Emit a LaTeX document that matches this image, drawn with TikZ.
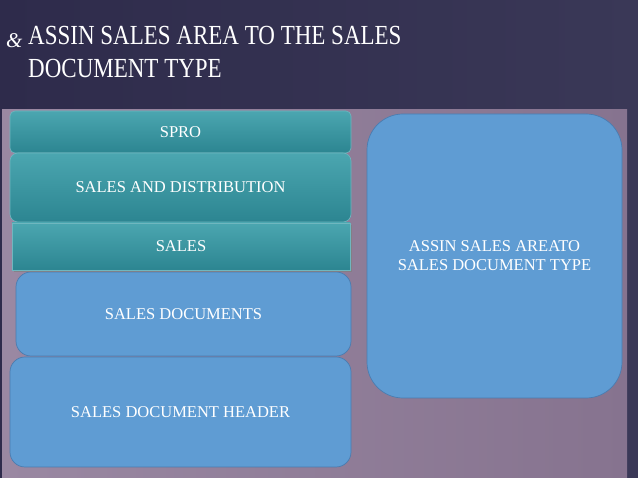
\documentclass[tikz,border=0pt]{standalone}
\usepackage{fontspec}
\setmainfont{Liberation Serif}
\usetikzlibrary{shadows}
\definecolor{bgnavy}{HTML}{2E2B4B}
\definecolor{bgnavyR}{HTML}{3A3857}
\definecolor{panelL}{HTML}{9A88A2}
\definecolor{panelR}{HTML}{86738F}
\definecolor{tealT}{HTML}{4BA6B0}
\definecolor{tealB}{HTML}{2C8591}
\definecolor{tealE}{HTML}{6FB7BF}
\definecolor{blueF}{HTML}{5F9CD3}
\definecolor{blueE}{HTML}{4A7CB0}
\tikzset{
  tealbox/.style={draw=tealE, line width=0.6pt, top color=tealT, bottom color=tealB,
    minimum width=341pt, inner sep=0pt, text=white, font=\fontsize{16.5}{19}\selectfont},
  bluebox/.style={draw=blueE, line width=0.7pt, fill=blueF, rounded corners=15pt,
    inner sep=0pt, text=white, font=\fontsize{16.5}{19}\selectfont},
}
\begin{document}
\begin{tikzpicture}[x=1pt,y=1pt]
\useasboundingbox (0,0) rectangle (638,478);
% background
\shade[left color=bgnavy, right color=bgnavyR] (0,0) rectangle (638,478);
% panel
\shade[left color=panelL, right color=panelR] (2,0) rectangle (627,368);
% title
\node[anchor=base west, inner sep=0pt, text=white, font=\fontsize{21}{21}\selectfont\itshape] (bullet) at (6,430) {\&};
\node[anchor=north west, text=white, align=left, inner sep=0pt, yscale=1.2, transform shape,
  font=\fontsize{23}{28.3}\selectfont] (title) at (28,452.5) {ASSIN SALES AREA TO THE SALES\\DOCUMENT TYPE};
% left stack
\node[tealbox, rounded corners=5pt, minimum height=42pt] (spro) at (180.5,346) {SPRO};
\node[tealbox, rounded corners=8pt, minimum height=69pt] (sd) at (180.5,290.5) {SALES AND DISTRIBUTION};
\node[bluebox, minimum width=335pt, minimum height=84pt] (docs) at (183.5,164) {SALES DOCUMENTS};
\node[bluebox, minimum width=341pt, minimum height=110pt] (header) at (180.5,66) {SALES DOCUMENT HEADER};
\node[tealbox, minimum width=338pt, minimum height=47pt, drop shadow={opacity=0.75, shadow xshift=1.5pt, shadow yshift=-2.5pt}] (sales) at (181,231.5) {SALES};
% right box
\node[bluebox, rounded corners=36pt, minimum width=255pt, minimum height=284pt, align=center] (assign) at (494.5,222) {ASSIN SALES AREATO\\SALES DOCUMENT TYPE};
\end{tikzpicture}
\end{document}
